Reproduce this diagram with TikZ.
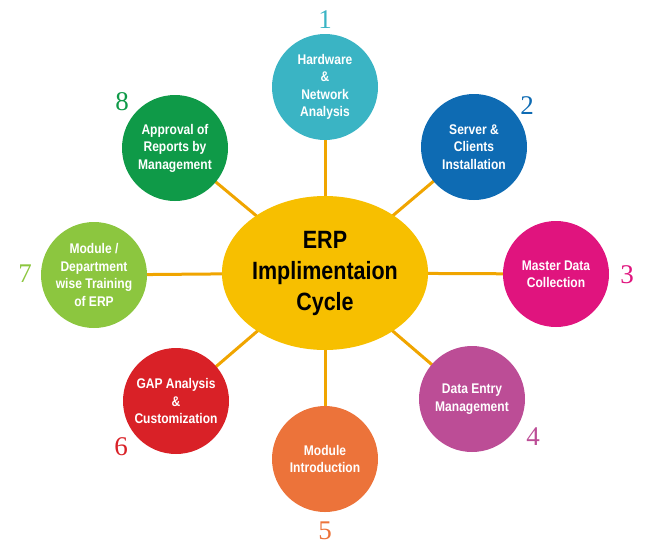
\documentclass[tikz,border=0pt]{standalone}
\usepackage{fontspec}
\setmainfont{Liberation Serif}
\newfontfamily\stepfont[FakeStretch=0.86]{Liberation Sans}
\usetikzlibrary{backgrounds,shapes.geometric}
\definecolor{ERPYellow}{HTML}{F7BF00}
\definecolor{ERPSpoke}{HTML}{F0A500}
\definecolor{ERPTeal}{HTML}{3AB4C4}
\definecolor{ERPBlue}{HTML}{0E6BB3}
\definecolor{ERPMagenta}{HTML}{E0147E}
\definecolor{ERPPlum}{HTML}{BC4D96}
\definecolor{ERPOrange}{HTML}{EC733A}
\definecolor{ERPRed}{HTML}{D92127}
\definecolor{ERPLime}{HTML}{8CC63F}
\definecolor{ERPGreen}{HTML}{0F9A48}
\tikzset{
  stepcircle/.style={circle,fill=#1,minimum size=106pt,inner sep=0pt,align=center,
    text=white,font=\stepfont\bfseries\fontsize{14}{17.5}\selectfont},
  stepnum/.style={text=#1,font=\fontsize{27}{27}\selectfont,inner sep=0pt},
  spoke/.style={draw=ERPSpoke,line width=3pt}
}

\begin{document}
\begin{tikzpicture}[x=1pt,y=-1pt]
\path[use as bounding box] (0,0) rectangle (650,550);
\node[ellipse,fill=ERPYellow,minimum width=194pt,minimum height=154pt,inner sep=0pt,align=center,
  font=\stepfont\bfseries\fontsize{25}{31}\selectfont] (hub) at (325,273) {ERP\\Implimentaion\\Cycle};
\node[stepcircle=ERPTeal] (s1) at (325,87) {Hardware\\\&\\Network\\Analysis};
\node[stepcircle=ERPBlue] (s2) at (474,147) {Server \&\\Clients\\Installation};
\node[stepcircle=ERPMagenta] (s3) at (556,274) {Master Data\\Collection};
\node[stepcircle=ERPPlum] (s4) at (472,399) {Data Entry\\Management};
\node[stepcircle=ERPOrange] (s5) at (325,459) {Module\\Introduction};
\node[stepcircle=ERPRed] (s6) at (176,401) {GAP Analysis\\\&\\Customization};
\node[stepcircle=ERPLime] (s7) at (94,275) {Module /\\Department\\wise Training\\of ERP};
\node[stepcircle=ERPGreen] (s8) at (175,148) {Approval of\\Reports by\\Management};
\node[stepnum=ERPTeal] (n1) at (325,20) {1};
\node[stepnum=ERPBlue] (n2) at (527,106) {2};
\node[stepnum=ERPMagenta] (n3) at (627,275) {3};
\node[stepnum=ERPPlum] (n4) at (533,437) {4};
\node[stepnum=ERPOrange] (n5) at (325,531) {5};
\node[stepnum=ERPRed] (n6) at (121,447) {6};
\node[stepnum=ERPLime] (n7) at (25,274) {7};
\node[stepnum=ERPGreen] (n8) at (122,102) {8};
\begin{scope}[on background layer]
\foreach \s in {s1,s2,s3,s4,s5,s6,s7,s8}
  \draw[spoke] (hub.center) -- (\s.center);
\end{scope}
\end{tikzpicture}
\end{document}
